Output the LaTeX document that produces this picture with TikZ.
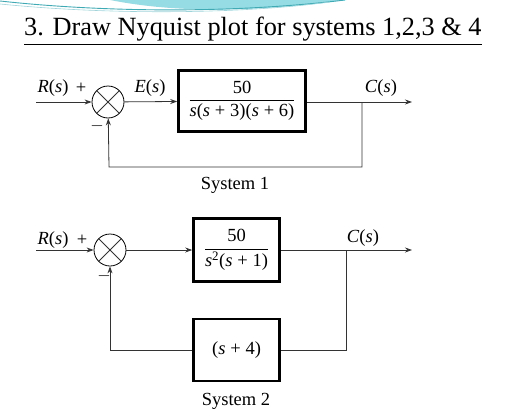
\documentclass[tikz,border=0pt]{standalone}
\usepackage{amsmath}
\usepackage{fontspec}
\setmainfont{Liberation Serif}
\usetikzlibrary{arrows.meta}

\definecolor{swoosh}{RGB}{64,170,180}
\definecolor{swooshlight}{RGB}{150,220,228}

% italic variable in text font, and a spaced plus
\newcommand{\vs}{\textit{s}}
\newcommand{\pl}{\hspace{0.26em}+\hspace{0.26em}}

\tikzset{
  block/.style={draw, line width=2.6pt, minimum width=#1, minimum height=61pt, inner sep=2pt},
  sumnode/.style={draw, circle, line width=0.8pt, minimum size=32pt, inner sep=0pt},
  wire/.style={line width=0.8pt, draw=black!80},
}

\begin{document}
\begin{tikzpicture}[x=1pt, y=-1pt, >={Stealth[length=7pt, width=5pt]}, font=\fontsize{18.5}{22}\selectfont]
\useasboundingbox (0,0) rectangle (506,415);

% header swoosh
\fill[swooshlight] (110,0) .. controls (190,16) and (280,9) .. (345,0) -- cycle;
\draw[swoosh, line width=0.9pt] (0,1) .. controls (100,12) and (230,14) .. (345,0);
\draw[swoosh!50, line width=0.6pt] (0,4) .. controls (120,16) and (250,13) .. (330,2);

% title
\node[anchor=base west, inner sep=0pt, font=\fontsize{26.3}{30}\selectfont] (title) at (24,35) {\underline{3. Draw Nyquist plot for systems 1,2,3 \& 4}};

% system 1: forward path
\coordinate (in1) at (36,102);
\node[sumnode] (sum1) at (108,102) {};
\draw[wire] (sum1.north west) -- (sum1.south east) (sum1.north east) -- (sum1.south west);
\node[block=127pt] (blk1) at (242,101) {$\dfrac{\text{50}}{\text{\vs(\vs\pl3)(\vs\pl6)}}$};
\coordinate (br1) at (362,102);
\coordinate (out1) at (412,102);
\coordinate (fb1) at (109,167);
\draw[wire, ->] (in1) -- (sum1);
\draw[wire, ->] (sum1) -- (blk1);
\draw[wire, ->] (blk1.east |- br1) -- (out1);
\draw[wire, ->] (br1) |- (fb1) -- (sum1);

% system 1 labels
\node (r1) at (53,88) {\textit{R}(\vs)};
\node (p1) at (81,88) {+};
\node (m1) at (97,126) {$-$};
\node (e1) at (150,88) {\textit{E}(\vs)};
\node (c1) at (381,88) {\textit{C}(\vs)};
\node (t1) at (235,185) {System 1};

% system 2: forward path
\coordinate (in2) at (36,250);
\node[sumnode] (sum2) at (110,250) {};
\draw[wire] (sum2.north west) -- (sum2.south east) (sum2.north east) -- (sum2.south west);
\node[block=86pt, minimum height=63pt] (blk2) at (236.5,250) {$\dfrac{\text{50}}{\text{\vs\textsuperscript{2}(\vs\pl1)}}$};
\coordinate (br2) at (346,250);
\coordinate (out2) at (412,250);
\draw[wire, ->] (in2) -- (sum2);
\draw[wire, ->] (sum2) -- (blk2);
\draw[wire, ->] (blk2) -- (out2);

% system 2: feedback path through (s+4)
\node[block=86pt, minimum height=62pt] (blk3) at (236.5,350) {(\vs\pl4)};
\draw[wire] (br2) |- (blk3);
\draw[wire, ->] (blk3) -| (sum2);

% system 2 labels
\node (r2) at (53,240) {\textit{R}(\vs)};
\node (p2) at (82,240) {+};
\node (m2) at (104,276) {$-$};
\node (c2) at (363,238) {\textit{C}(\vs)};
\node (t2) at (236,401) {System 2};

\end{tikzpicture}
\end{document}
